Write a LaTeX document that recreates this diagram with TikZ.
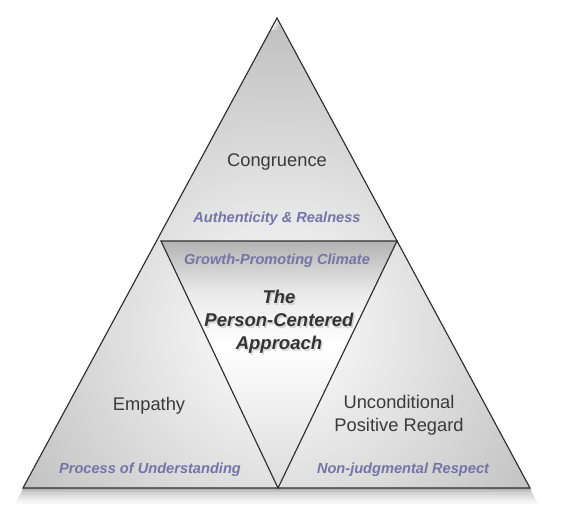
\documentclass[tikz,border=0pt]{standalone}
\usepackage{fontspec}
\setmainfont{Liberation Sans}
\usetikzlibrary{shadings}
\definecolor{labgray}{HTML}{3A3A3A}
\definecolor{subblue}{HTML}{7474A8}
\definecolor{edge}{HTML}{2E2E2E}
\begin{document}
\begin{tikzpicture}[x=1pt,y=-1pt,
  mainlab/.style={text=labgray,font=\fontsize{18.3}{23}\selectfont,align=center},
  sublab/.style={text=subblue,font=\fontsize{14.6}{17}\selectfont\bfseries\itshape},
  centerlab/.style={text=labgray!90!black,font=\fontsize{18.5}{23}\selectfont\bfseries\itshape,align=center},
  tri/.style={draw=edge,line width=1.15pt,line join=miter}]
\useasboundingbox (0,0) rectangle (577,517);
% coordinates
\coordinate (A) at (277,18);
\coordinate (BL) at (23,488);
\coordinate (BR) at (530,488);
\coordinate (IL) at (161,241);
\coordinate (IR) at (397,241);
\coordinate (IB) at (278,488);
% soft shadow
\foreach \d/\o in {16/0.03,13/0.04,10/0.05,7/0.06,4/0.08,2/0.1}{
  \fill[black,opacity=\o] ([shift={(-\d/2,\d)}]BL) -- ([shift={(\d/2,\d)}]BR) -- ([shift={(\d/3,\d)}]A) -- cycle;
}
% main triangle fill
\begin{scope}
\clip (A) -- (BL) -- (BR) -- cycle;
\shade[inner color=white,outer color=black!24] (278,330) circle (300);
\end{scope}
% inner triangle fill
\begin{scope}
\clip (IL) -- (IR) -- (IB) -- cycle;
\shade[top color=black!30,bottom color=white,middle color=black!8] (161,241) rectangle (397,345);
\shade[top color=white,bottom color=black!14] (161,345) rectangle (397,489);
\end{scope}
% outlines
\draw[tri] (A) -- (BL) -- (BR) -- cycle;
\draw[tri] (IL) -- (IR) -- (IB) -- cycle;
% labels
\node[mainlab] (cong) at (277,162) {Congruence};
\node[sublab] (auth) at (277,219) {Authenticity \& Realness};
\node[sublab] (grow) at (277,261) {Growth-Promoting Climate};
\node[centerlab,text=black!25,opacity=0.6] (pcashadow) at (280.5,323.5) {The\\Person-Centered\\Approach};
\node[centerlab] (pca) at (279,322) {The\\Person-Centered\\Approach};
\node[mainlab] (emp) at (149,406) {Empathy};
\node[sublab] (proc) at (150,470) {Process of Understanding};
\node[mainlab,align=center] (upr) at (399,415) {Unconditional\\Positive Regard};
\node[sublab] (nonj) at (403,470) {Non-judgmental Respect};
\end{tikzpicture}
\end{document}
